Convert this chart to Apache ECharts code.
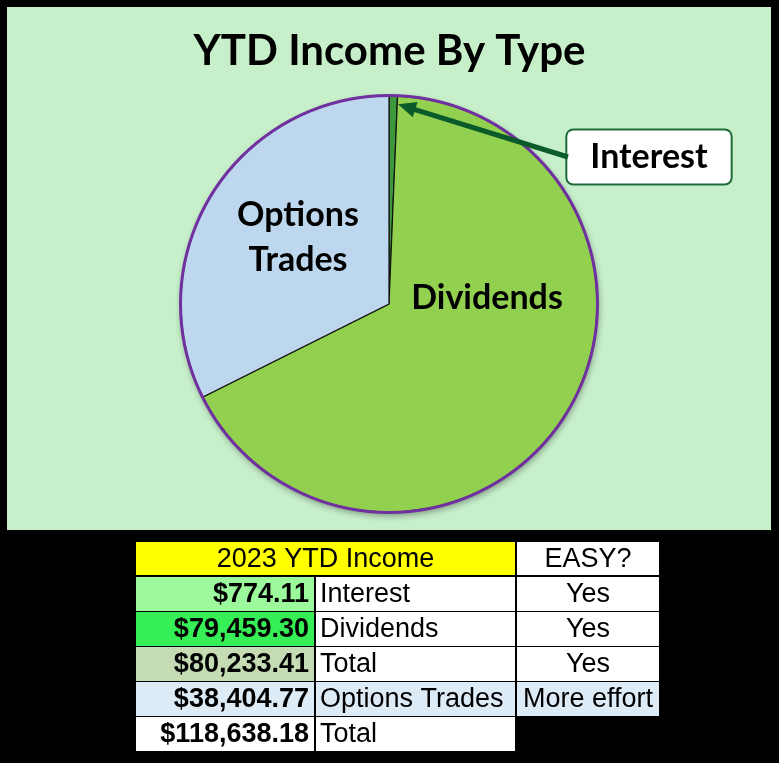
<!DOCTYPE html>
<html>
<head>
<meta charset="utf-8">
<script src="https://cdn.jsdelivr.net/npm/echarts@6/dist/echarts.min.js"></script>
<style>
html,body{margin:0;padding:0;background:#000;}
#chart{width:779px;height:763px;}
</style>
</head>
<body>
<div id="chart"></div>
<script>
// ---- data ----
const categories = ['Interest', 'Dividends', 'Options Trades'];
const values = [774.11, 79459.30, 38404.77];
const sliceColors = ['#3c9a3c', '#92d050', '#bdd7ee'];
const titleText = 'YTD Income By Type';

const tableHeader = ['2023 YTD Income', 'EASY?'];
const tableAmounts = [774.11, 79459.30, 80233.41, 38404.77, 118638.18];
const tableLabels = ['Interest', 'Dividends', 'Total', 'Options Trades', 'Total'];
const tableEasy = ['Yes', 'Yes', 'Yes', 'More effort', ''];
const amountColors = ['#9cfa9c', '#36ee55', '#c4dbb4', '#ddebf7', '#ffffff'];
const labelColors = ['#ffffff', '#ffffff', '#ffffff', '#ddebf7', '#ffffff'];
const easyColors = ['#ffffff', '#ffffff', '#ffffff', '#ddebf7', null];

// ---- layout ----
const CX = 389, CY = 304, R = 208;
const total = values.reduce((a, b) => a + b, 0);

function fmt(v) {
  return '$' + v.toLocaleString('en-US', {minimumFractionDigits: 2, maximumFractionDigits: 2});
}

// arrow tip computed from interest slice angle
const interestAngle = (values[0] / total) * 2 * Math.PI;
const tipAngle = interestAngle * 1.1;
const tip = [CX + (R - 8) * Math.sin(tipAngle), CY - (R - 8) * Math.cos(tipAngle)];
const boxLeft = [568, 157];
const dxA = tip[0] - boxLeft[0], dyA = tip[1] - boxLeft[1];
const lenA = Math.hypot(dxA, dyA);
const ux = dxA / lenA, uy = dyA / lenA;
const headLen = 18, headHalf = 8;
const base = [tip[0] - ux * headLen, tip[1] - uy * headLen];
const arrowHead = [
  tip,
  [base[0] - uy * headHalf, base[1] + ux * headHalf],
  [base[0] + uy * headHalf, base[1] - ux * headHalf]
];

// ---- table graphics ----
const colX = [136, 316, 517];
const colW = [178, 199, 142];
const headerY = 542, headerH = 33;
const rowY0 = 577, rowStep = 35, rowH = 34;
const tableFont = '"Liberation Sans", Arial, sans-serif';
const tableGraphics = [];
tableGraphics.push({type: 'rect', shape: {x: colX[0], y: headerY, width: colW[0] + colW[1] + 2, height: headerH}, style: {fill: '#ffff00'}});
tableGraphics.push({type: 'text', x: colX[0] + (colW[0] + colW[1] + 2) / 2, y: headerY + headerH / 2 + 1,
  style: {text: tableHeader[0], font: '27px ' + tableFont, fill: '#000', align: 'center', verticalAlign: 'middle'}});
tableGraphics.push({type: 'rect', shape: {x: colX[2], y: headerY, width: colW[2], height: headerH}, style: {fill: '#ffffff'}});
tableGraphics.push({type: 'text', x: colX[2] + colW[2] / 2, y: headerY + headerH / 2 + 1,
  style: {text: tableHeader[1], font: '27px ' + tableFont, fill: '#000', align: 'center', verticalAlign: 'middle'}});
tableAmounts.forEach((amt, i) => {
  const y = rowY0 + i * rowStep;
  tableGraphics.push({type: 'rect', shape: {x: colX[0], y: y, width: colW[0], height: rowH}, style: {fill: amountColors[i]}});
  tableGraphics.push({type: 'text', x: colX[0] + colW[0] - 5, y: y + rowH / 2 + 1,
    style: {text: fmt(amt), font: 'bold 27px ' + tableFont, fill: '#000', align: 'right', verticalAlign: 'middle'}});
  tableGraphics.push({type: 'rect', shape: {x: colX[1], y: y, width: colW[1], height: rowH}, style: {fill: labelColors[i]}});
  tableGraphics.push({type: 'text', x: colX[1] + 4, y: y + rowH / 2 + 1,
    style: {text: tableLabels[i], font: '27px ' + tableFont, fill: '#000', align: 'left', verticalAlign: 'middle'}});
  if (easyColors[i]) {
    tableGraphics.push({type: 'rect', shape: {x: colX[2], y: y, width: colW[2], height: rowH}, style: {fill: easyColors[i]}});
    tableGraphics.push({type: 'text', x: colX[2] + colW[2] / 2, y: y + rowH / 2 + 1,
      style: {text: tableEasy[i], font: '27px ' + tableFont, fill: '#000', align: 'center', verticalAlign: 'middle'}});
  }
});

const chart = echarts.init(document.getElementById('chart'));
const labelPos = {
  0: {x: 649, y: 157},
  1: {x: 487, y: 298},
  2: {x: 298, y: 238}
};

chart.setOption({
  backgroundColor: '#000000',
  animation: false,
  title: {
    text: titleText,
    left: 'center',
    top: 25,
    textStyle: {fontFamily: 'Lato', fontWeight: 'bold', fontSize: 42, color: '#000'}
  },
  graphic: [
    {type: 'rect', z: -10, shape: {x: 7, y: 7, width: 764, height: 523}, style: {fill: '#c6efca'}},
    {type: 'polyline', z: 100, shape: {points: [boxLeft, [tip[0] - ux * 12, tip[1] - uy * 12]]},
      style: {stroke: '#0b5a2a', lineWidth: 5, fill: null}},
    {type: 'polygon', z: 100, shape: {points: arrowHead}, style: {fill: '#0b5a2a'}}
  ].concat(tableGraphics),
  series: [
    {
      // shadow disk behind the pie
      type: 'pie',
      center: [CX, CY],
      radius: [0, R + 1],
      silent: true,
      z: 1,
      label: {show: false},
      labelLine: {show: false},
      itemStyle: {color: '#7030a0', shadowBlur: 6, shadowOffsetY: 3, shadowOffsetX: 1, shadowColor: 'rgba(0,0,0,0.35)'},
      data: [{name: 'Total', value: total}]
    },
    {
      type: 'pie',
      center: [CX, CY],
      radius: [0, R],
      startAngle: 90,
      clockwise: true,
      silent: true,
      z: 2,
      data: categories.map((c, i) => ({
        name: c, value: values[i], itemStyle: {color: sliceColors[i]},
        label: i === 0 ? {
          position: 'outside',
          backgroundColor: '#ffffff',
          borderColor: '#1e6b3a',
          borderWidth: 2,
          borderRadius: 6,
          padding: [9, 23, 9, 23],
          fontSize: 34,
          lineHeight: 35
        } : {}
      })),
      itemStyle: {borderColor: '#111', borderWidth: 1.2},
      label: {
        show: true,
        position: 'inside',
        fontFamily: 'Lato',
        fontWeight: 'bold',
        fontSize: 34,
        lineHeight: 45,
        color: '#000',
        formatter: p => p.name.replace(' ', '\n')
      },
      labelLine: {show: false},
      labelLayout: function (params) {
        const pos = labelPos[params.dataIndex];
        return {x: pos.x, y: pos.y, align: 'center', verticalAlign: 'middle'};
      }
    },
    {
      type: 'pie',
      center: [CX, CY],
      radius: [R - 1, R + 2],
      silent: true,
      z: 3,
      label: {show: false},
      labelLine: {show: false},
      itemStyle: {color: '#7030a0', borderWidth: 0},
      data: [{name: 'Total', value: total}]
    }
  ]
});
</script>
</body>
</html>
